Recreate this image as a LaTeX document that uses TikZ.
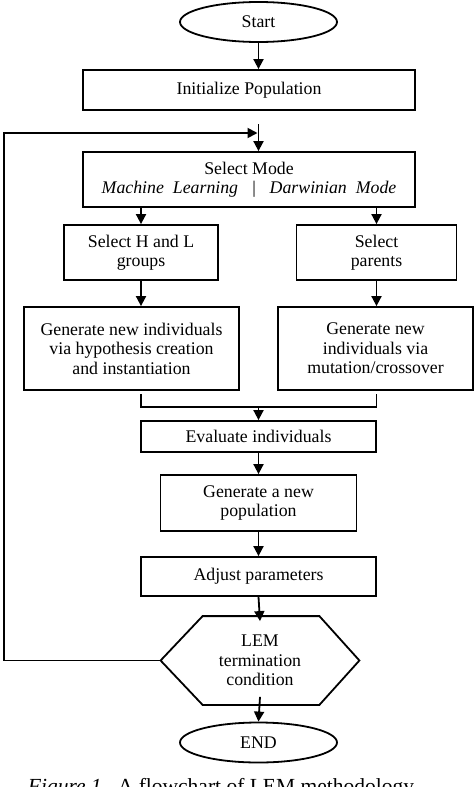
\documentclass[tikz,border=0pt]{standalone}
\usepackage{fontspec}
\setmainfont{Liberation Serif}
\usetikzlibrary{arrows.meta,shapes.geometric,calc}
\begin{document}
\begin{tikzpicture}[x=1pt,y=-1pt,
  line width=1.8pt,
  txt/.style={font=\fontsize{17.8}{19.5}\selectfont},
  box/.style={draw,rectangle,align=center,inner sep=0pt,txt},
  term/.style={draw,ellipse,inner sep=0pt,minimum width=157pt,minimum height=40pt,txt},
  arr/.style={-{Triangle[length=10pt,width=10pt]}}]
\useasboundingbox (0,0) rectangle (474,787);
\clip (0,0) rectangle (474,787);

\node[term] (start) at (258.5,22) {Start};
\node[box,minimum width=332pt,minimum height=40pt] (init) at (249,90) {Initialize Population};
\node[box,minimum width=332pt,minimum height=55pt] (sel) at (249,179.5)
  {Select Mode\\\textit{Machine\ \ Learning\ \ \ |\ \ \ Darwinian\ \ Mode}};
\node[box,minimum width=154pt,minimum height=55pt] (selH) at (141,252.5) {Select H and L\\groups};
\node[box,minimum width=160pt,minimum height=55pt] (selP) at (376.5,252.5) {Select\\parents};
\node[box,minimum width=215pt,minimum height=83pt] (genL) at (131.5,348.5)
  {Generate new individuals\\via hypothesis creation\\and instantiation};
\node[box,minimum width=195pt,minimum height=83pt] (genR) at (375.5,348.5)
  {Generate new\\individuals via\\mutation/crossover};
\node[box,minimum width=235pt,minimum height=31pt] (eval) at (258.5,436.5) {Evaluate individuals};
\node[box,minimum width=196pt,minimum height=56pt] (gpop) at (258.5,503) {Generate a new\\population};
\node[box,minimum width=235pt,minimum height=39pt] (adj) at (258.5,576.5) {Adjust parameters};
\node[txt,align=center,inner sep=0pt,minimum width=197pt,minimum height=87pt] (hex) at (260,660.5)
  {LEM\\termination\\condition};
\draw (hex.west) -- ([xshift=42pt]hex.north west) -- ([xshift=-40pt]hex.north east)
  -- (hex.east) -- ([xshift=-40pt]hex.south east) -- ([xshift=42pt]hex.south west) -- cycle;
\node[term] (end) at (258.5,742.5) {END};

\node[anchor=base west,inner sep=0pt,font=\fontsize{21.5}{24}\selectfont] (cap) at (27,793)
  {\textit{Figure 1.}\ \ A flowchart of LEM methodology};

% connectors
\draw[arr] (start.south) -- (start.south |- init.north);
\coordinate (j) at (258.5,124);
\draw[arr] (j) -- (j |- sel.north);
\coordinate (lb) at (4,660.5);
\coordinate (lt) at (4,133);
\coordinate (jt) at (257.5,133);
\draw[arr] (hex.west) -- (lb) -- (lt) -- (jt);
\draw[arr] (sel.south -| selH) -- (selH.north);
\draw[arr] (sel.south -| selP) -- (selP.north);
\draw[arr] (selH.south) -- (selH.south |- genL.north);
\draw[arr] (selP.south) -- (selP.south |- genR.north);
\coordinate (m) at (258.5,407);
\draw ([yshift=-3pt]genL.south -| selH) |- (m) -| ([yshift=-3pt]genR.south -| selP);
\draw[arr] (m) -- (eval.north);
\draw[arr] (eval.south) -- (gpop.north);
\draw[arr] (gpop.south) -- (adj.north);
\draw[arr] (adj.south) -- ([yshift=-5pt]hex.north);
\draw[arr] ([yshift=8pt]hex.south) -- (end.north);
\end{tikzpicture}
\end{document}
